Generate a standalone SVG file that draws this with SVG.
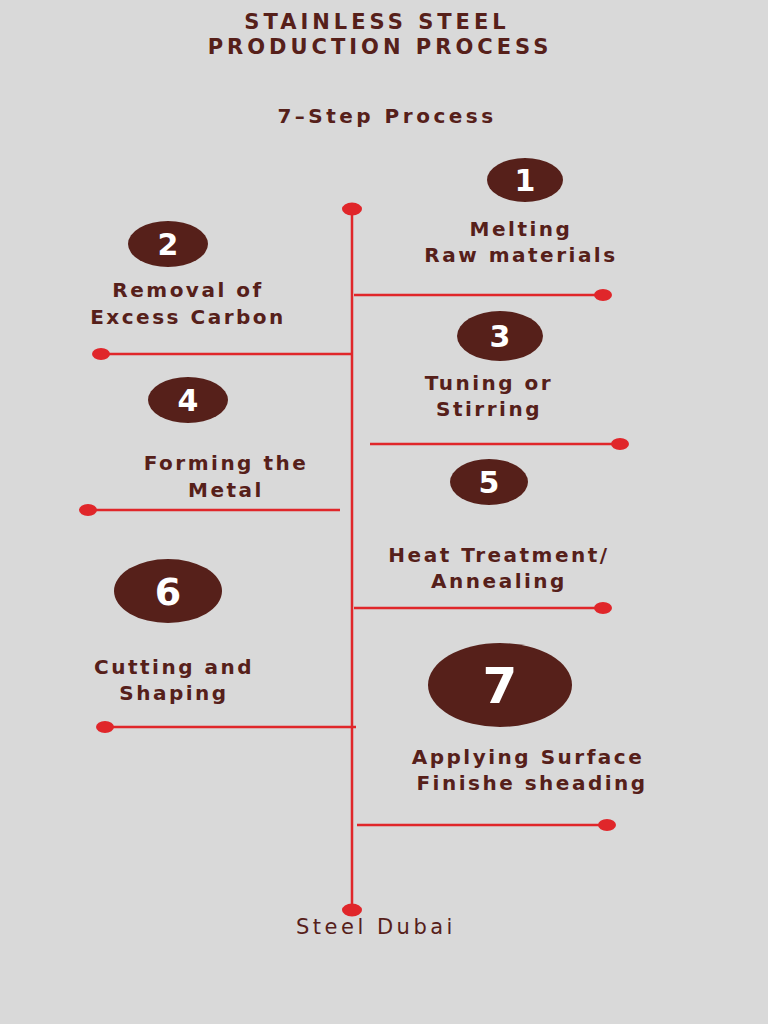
<svg xmlns="http://www.w3.org/2000/svg" width="768" height="1024" viewBox="0 0 768 1024">
<style>
.t{font-family:"DejaVu Sans","Liberation Sans",sans-serif;font-weight:bold;fill:#56201a;text-anchor:middle;font-size:20px;letter-spacing:2.5px}
.n{font-family:"DejaVu Sans","Liberation Sans",sans-serif;font-weight:bold;fill:#fff;text-anchor:middle}
.b{fill:#56201a}
.l{stroke:#e0262a;stroke-width:2.5;fill:none}
.d{fill:#e0262a}
</style>
<rect width="768" height="1024" fill="#d9d9d9"/>
<g id="title">
<text class="t" x="377" y="29" style="font-size:21px;letter-spacing:4px">STAINLESS STEEL</text>
<text class="t" x="380" y="54" style="font-size:21px;letter-spacing:4px">PRODUCTION PROCESS</text>
<text class="t" x="387" y="123" style="font-size:20px;letter-spacing:3.5px">7–Step Process</text>
</g>
<g id="connectors">
<line class="l" x1="352" y1="209" x2="352" y2="910"/>
<line class="l" x1="354" y1="295" x2="603" y2="295"/>
<line class="l" x1="101" y1="354" x2="352" y2="354"/>
<line class="l" x1="370" y1="444" x2="620" y2="444"/>
<line class="l" x1="88" y1="510" x2="340" y2="510"/>
<line class="l" x1="354" y1="608" x2="603" y2="608"/>
<line class="l" x1="105" y1="727" x2="356" y2="727"/>
<line class="l" x1="357" y1="825" x2="607" y2="825"/>
<ellipse class="d" cx="352" cy="209" rx="10" ry="6.5"/>
<ellipse class="d" cx="352" cy="910" rx="10" ry="6.5"/>
<ellipse class="d" cx="603" cy="295" rx="9" ry="6"/>
<ellipse class="d" cx="101" cy="354" rx="9" ry="6"/>
<ellipse class="d" cx="620" cy="444" rx="9" ry="6"/>
<ellipse class="d" cx="88" cy="510" rx="9" ry="6"/>
<ellipse class="d" cx="603" cy="608" rx="9" ry="6"/>
<ellipse class="d" cx="105" cy="727" rx="9" ry="6"/>
<ellipse class="d" cx="607" cy="825" rx="9" ry="6"/>
</g>
<g id="step1"><ellipse class="b" cx="525" cy="180" rx="38" ry="22"/><text class="n" x="525" y="191" font-size="30">1</text>
<text class="t" x="521" y="236">Melting</text><text class="t" x="521" y="262">Raw materials</text></g>
<g id="step2"><ellipse class="b" cx="168" cy="244" rx="40" ry="23"/><text class="n" x="168" y="255" font-size="30">2</text>
<text class="t" x="188" y="297">Removal of</text><text class="t" x="188" y="324">Excess Carbon</text></g>
<g id="step3"><ellipse class="b" cx="500" cy="336" rx="43" ry="25"/><text class="n" x="500" y="347" font-size="30">3</text>
<text class="t" x="489" y="390">Tuning or</text><text class="t" x="489" y="416">Stirring</text></g>
<g id="step4"><ellipse class="b" cx="188" cy="400" rx="40" ry="23"/><text class="n" x="188" y="411" font-size="30">4</text>
<text class="t" x="226" y="470">Forming the</text><text class="t" x="226" y="497">Metal</text></g>
<g id="step5"><ellipse class="b" cx="489" cy="482" rx="39" ry="23"/><text class="n" x="489" y="493" font-size="30">5</text>
<text class="t" x="499" y="562">Heat Treatment/</text><text class="t" x="499" y="588">Annealing</text></g>
<g id="step6"><ellipse class="b" cx="168" cy="591" rx="54" ry="32"/><text class="n" x="168" y="605" font-size="38">6</text>
<text class="t" x="174" y="674">Cutting and</text><text class="t" x="174" y="700">Shaping</text></g>
<g id="step7"><ellipse class="b" cx="500" cy="685" rx="72" ry="42"/><text class="n" x="500" y="703" font-size="50">7</text>
<text class="t" x="528" y="764">Applying Surface</text><text class="t" x="532" y="790">Finishe sheading</text></g>
<text x="376" y="934" font-size="21" letter-spacing="3.5" fill="#56201a" text-anchor="middle" font-family="DejaVu Sans,sans-serif">Steel Dubai</text>
</svg>
